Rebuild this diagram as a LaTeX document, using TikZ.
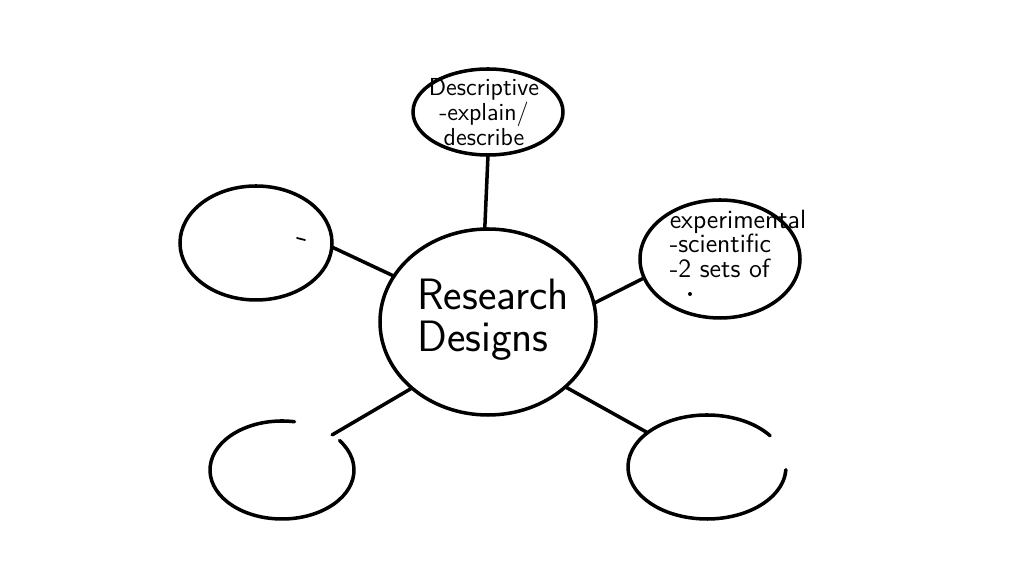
\documentclass[tikz,border=0pt]{standalone}
\usepackage{tikz}
\usetikzlibrary{shapes.geometric}

\begin{document}
\begin{tikzpicture}[line width=2pt,line cap=round]
\tikzset{bubble/.style=
            {draw,ellipse,inner sep=0pt,outer sep=0pt},
         openbubble/.style=
            {ellipse,inner sep=0pt,outer sep=0pt},
         note/.style=
            {font=\sffamily\fontsize{14}{12.5}\selectfont,inner sep=0pt,align=left}}
\useasboundingbox (0,0) rectangle (20.48,11.52);
% hub
\node[bubble,minimum width=4.32cm,minimum height=3.72cm] (designs) at (9.76,5.08) {};
\node[font=\sffamily\fontsize{25}{24}\selectfont,align=left] (designstext) at (9.86,5.12) {Research\\Designs};
% branches
\node[bubble,minimum width=3cm,minimum height=1.72cm] (descriptive) at (9.76,9.28) {};
\node[note,align=center] (descriptivetext) at (9.68,9.28) {Descriptive\\-explain/\\describe};
\node[bubble,minimum width=3.2cm,minimum height=2.36cm] (experimental) at (14.4,6.34) {};
\node[note,font=\sffamily\fontsize{15}{14}\selectfont,anchor=north west] (experimentaltext) at (13.36,7.36) {experimental\\-scientific\\-2 sets of};
\node[bubble,minimum width=3.04cm,minimum height=2.28cm] (leftbranch) at (5.12,6.66) {};
\node[openbubble,minimum width=2.88cm,minimum height=1.96cm] (lowleft) at (5.64,2.12) {};
\node[openbubble,minimum width=3.16cm,minimum height=2.08cm] (lowright) at (14.14,2.18) {};
% unfinished loops
\draw (lowleft.center) ++(80:1.44 and 0.98) arc[start angle=80,end angle=397,x radius=1.44,y radius=0.98];
\draw (lowright.center) ++(37:1.58 and 1.04) arc[start angle=37,end angle=357,x radius=1.58,y radius=1.04];
% stray marks
\draw[line width=1pt] (5.94,6.76) -- (6.10,6.72);
\fill (13.8,5.64) circle (0.04);
% connectors
\draw (designs.92) -- (descriptive.south);
\draw (designs.154) -- (leftbranch.357);
\draw (designs.10) -- (experimental.194);
\draw (designs.221) -- (lowleft.35);
\draw (designs.320) -- (lowright.150);
\end{tikzpicture}
\end{document}
